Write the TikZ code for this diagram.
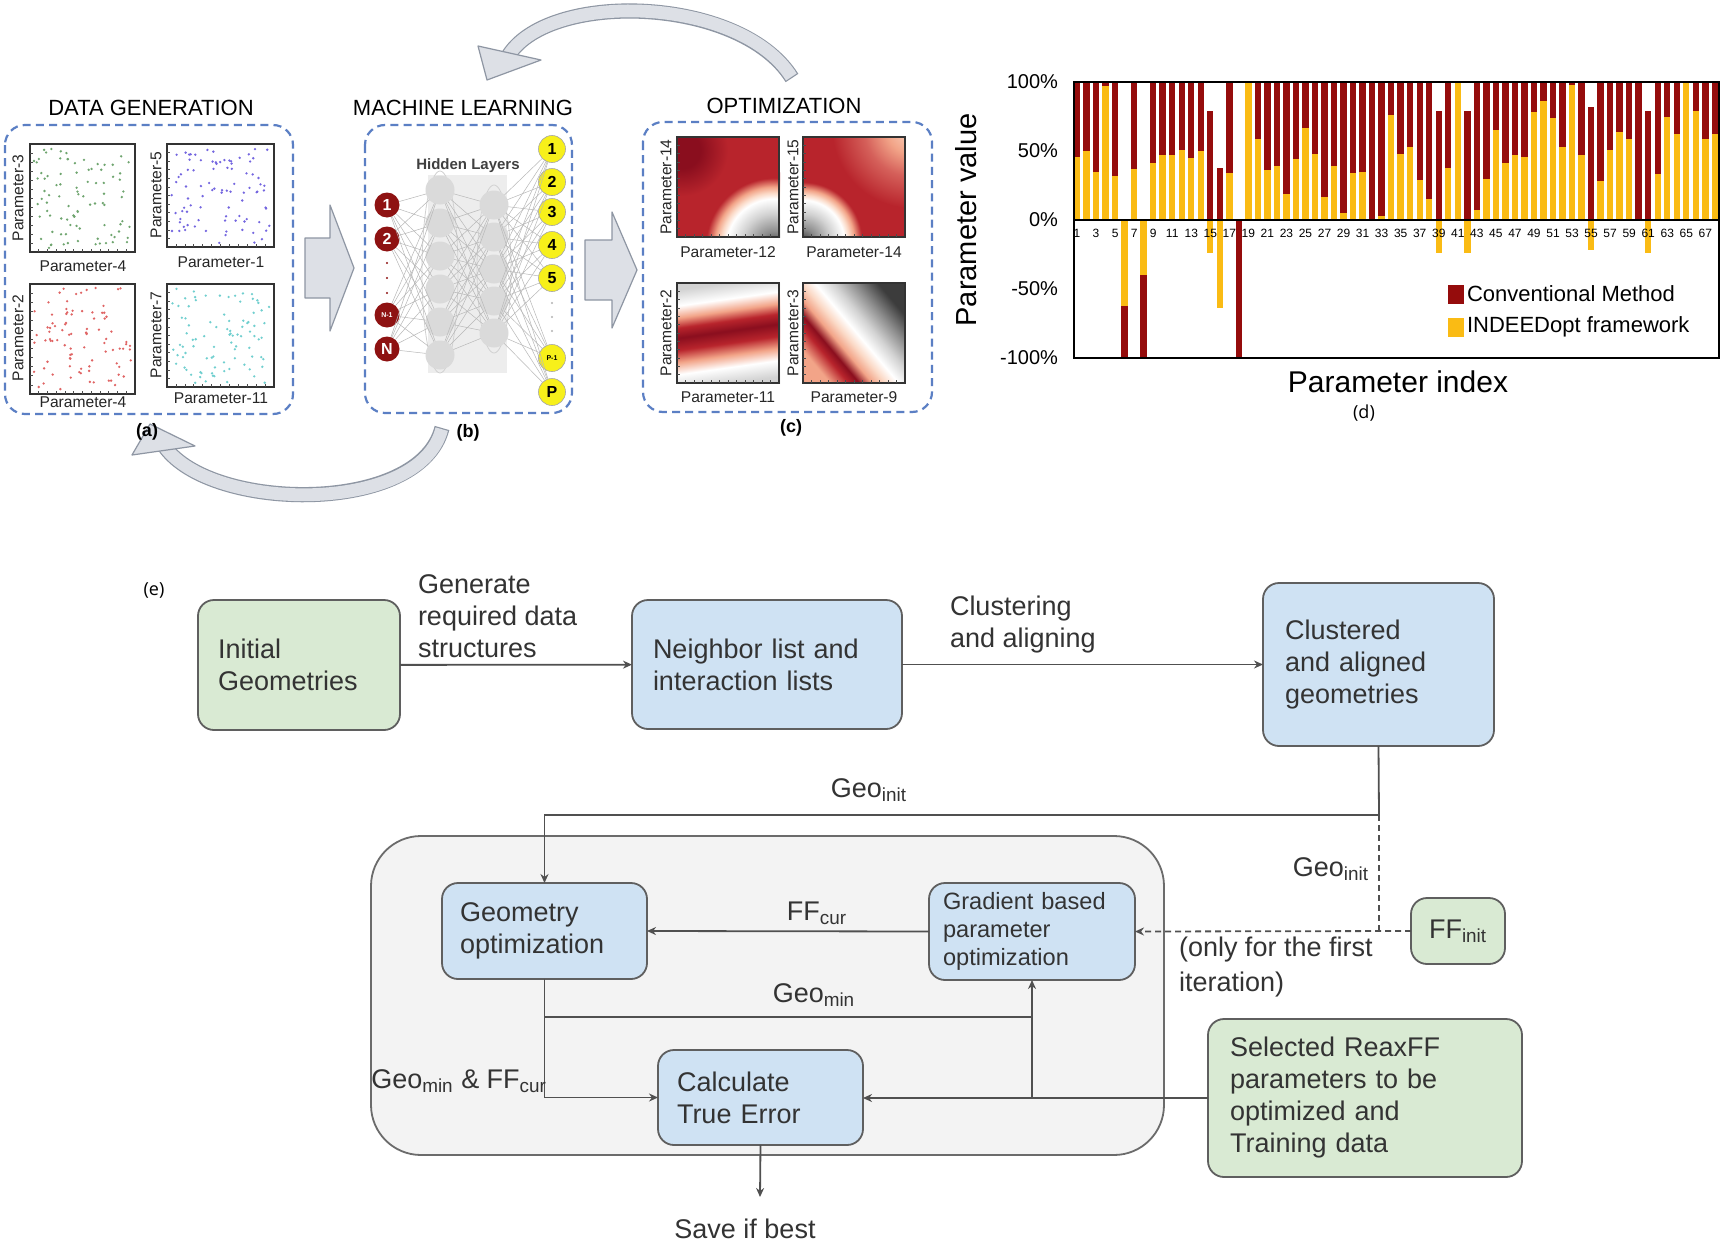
\documentclass[tikz,border=0pt]{standalone}
\usepackage{fontspec}
\setmainfont{Liberation Sans}
\newfontfamily\osans{Open Sans}
\usetikzlibrary{arrows.meta}
\definecolor{dashblue}{HTML}{5B7FC4}
\definecolor{arrfill}{HTML}{DDE0E6}
\definecolor{arredge}{HTML}{8E96A3}
\definecolor{pgreen}{HTML}{6FA56F}
\definecolor{pblue}{HTML}{7466E0}
\definecolor{pred}{HTML}{E06464}
\definecolor{pcyan}{HTML}{70CFCF}
\definecolor{hmk}{HTML}{3C3C3C}
\definecolor{hmg}{HTML}{8E8E8E}
\definecolor{hml}{HTML}{D2D2D2}
\definecolor{hms}{HTML}{F2A488}
\definecolor{hmp}{HTML}{FBD9C6}
\definecolor{hmr}{HTML}{B8242C}
\definecolor{hmd}{HTML}{8A0E1E}
\definecolor{hmm}{HTML}{D5605A}
\definecolor{inred}{HTML}{8E1212}
\definecolor{outyel}{HTML}{F7F01A}
\definecolor{hidfill}{HTML}{DADADA}
\definecolor{hidrect}{HTML}{EDEDED}
\definecolor{nnl}{HTML}{B8B8B8}
\definecolor{cred}{HTML}{950C0C}
\definecolor{cyel}{HTML}{FABB14}
\definecolor{gfill}{HTML}{D9EAD3}
\definecolor{bfill}{HTML}{CFE2F3}
\definecolor{boxedge}{HTML}{5F5F5F}
\definecolor{contfill}{HTML}{F3F3F3}
\definecolor{contedge}{HTML}{6B6B6B}
\definecolor{flowline}{HTML}{505050}
\definecolor{txt}{HTML}{333333}
\pgfdeclareradialshading{hmA}{\pgfpoint{0bp}{0bp}}{color(0bp)=(hmk); color(5bp)=(hmg); color(11bp)=(hml); color(16bp)=(white); color(18bp)=(hmp); color(20bp)=(hms); color(23bp)=(hmr); color(25bp)=(hmr); color(50bp)=(hmr)}
\pgfdeclareradialshading{hmB}{\pgfpoint{0bp}{0bp}}{color(0bp)=(hmp); color(8bp)=(hms); color(15bp)=(hmm); color(25bp)=(hmr); color(50bp)=(hmr)}
\pgfdeclareradialshading{hmE}{\pgfpoint{0bp}{0bp}}{color(0bp)=(hmd); color(10bp)=(hmd); color(25bp)=(hmr); color(50bp)=(hmr)}
\pgfdeclareverticalshading{hmC}{100bp}{color(0bp)=(hml); color(25bp)=(hml); color(33bp)=(white); color(39bp)=(hms); color(45bp)=(hmr); color(51bp)=(hmd); color(56bp)=(hmr); color(61bp)=(hms); color(67bp)=(white); color(75bp)=(hml); color(100bp)=(hml)}
\pgfdeclarehorizontalshading{hmD}{100bp}{color(0bp)=(hms); color(25bp)=(hms); color(32bp)=(hmr); color(36bp)=(hmd); color(41bp)=(hms); color(46bp)=(hmp); color(51bp)=(white); color(58bp)=(hml); color(66bp)=(hmg); color(75bp)=(hmk); color(100bp)=(hmk)}
\begin{document}
\begin{tikzpicture}[x=0.5pt,y=-0.5pt,
  every node/.style={inner sep=0pt,outer sep=0pt},
  dashbox/.style={draw=dashblue,line width=1.1pt,dash pattern=on 4pt off 2.6pt,rounded corners=10pt},
  plotframe/.style={draw=black!80,line width=0.6pt},
  tk/.style={draw=black!70,line width=0.3pt},
  ttl/.style={font=\fontsize{11}{13}\selectfont},
  plab/.style={font=\fontsize{7.8}{9}\selectfont,text=black!85},
  panlab/.style={font=\bfseries\fontsize{9}{11}\selectfont},
  blockarrow/.style={fill=arrfill,draw=arredge,line width=0.6pt,line join=round},
  nnline/.style={draw=nnl,line width=0.25pt},
  hid/.style={circle,fill=hidfill,minimum size=14.5pt},
  inp/.style={circle,fill=inred,minimum size=12.5pt,text=white,font=\bfseries\fontsize{8}{8}\selectfont},
  outp/.style={circle,fill=outyel,draw=black!35,line width=0.3pt,minimum size=13.5pt,font=\bfseries\fontsize{8}{8}\selectfont},
  flow/.style={draw=flowline,line width=0.9pt},
  arr/.style={flow,-{Stealth[length=4.5pt,width=4pt]}},
  fbox/.style={draw=boxedge,line width=0.9pt,rounded corners=8pt,align=left,font=\fontsize{13.5}{16}\selectfont,text=txt},
  gbox/.style={fbox,fill=gfill},
  bbox/.style={fbox,fill=bfill},
  lbl/.style={font=\fontsize{13.5}{16}\selectfont,text=txt,align=left},
  ytl/.style={font=\fontsize{10}{12}\selectfont,anchor=east},
  xtl/.style={font=\fontsize{6}{7}\selectfont},
  legt/.style={font=\fontsize{11}{13}\selectfont,anchor=west}]
\useasboundingbox (0,0) rectangle (1725,1242);
\fill[white] (0,0) rectangle (1725,1242);

% ================= curved arrows =================
\draw[arredge,line width=7.6pt] (792,78) .. controls (740,-5) and (545,-10) .. (507,58);
\draw[arrfill,line width=6.4pt,shorten <=0.6pt] (792,78) .. controls (740,-5) and (545,-10) .. (507,58);
\draw[blockarrow] (478,46) -- (541,60) -- (487,80) -- cycle;

\draw[arredge,line width=7.6pt] (442,428) .. controls (420,515) and (212,512) .. (165,447);
\draw[arrfill,line width=6.4pt,shorten <=0.6pt] (442,428) .. controls (420,515) and (212,512) .. (165,447);
\draw[blockarrow] (132,455) -- (195,446) -- (150,424) -- cycle;

% ================= (a) data generation =================
\node[ttl] (tA) at (151,108) {DATA GENERATION};
\draw[dashbox] (5,125) rectangle (293,414);
\pgfmathsetseed{7}
\foreach \x/\y/\w/\h/\c in {30/144/105/108/pgreen, 167/144/107/103/pblue, 30/284/105/110/pred, 167/284/107/103/pcyan}{
  \foreach \k in {1,...,90}{\fill[\c] ({\x+4+rnd*(\w-8)},{\y+4+rnd*(\h-8)}) circle (1.3);}
  \draw[plotframe] (\x,\y) rectangle ++(\w,\h);
  \foreach \t in {1,...,11}{
    \draw[tk] ({\x+\t*\w/12},{\y+\h}) -- ++(0,-3);
    \draw[tk] (\x,{\y+\t*\h/12}) -- ++(3,0);}
}
\node[plab] (a1x) at (83,266) {Parameter-4};
\node[plab] (a2x) at (221,262) {Parameter-1};
\node[plab] (a3x) at (83,402) {Parameter-4};
\node[plab] (a4x) at (221,398) {Parameter-11};
\node[plab,rotate=90] (a1y) at (18,198) {Parameter-3};
\node[plab,rotate=90] (a2y) at (156,195) {Parameter-5};
\node[plab,rotate=90] (a3y) at (18,338) {Parameter-2};
\node[plab,rotate=90] (a4y) at (156,335) {Parameter-7};
\node[panlab] (la) at (147,432) {(a)};

% block arrows
\draw[blockarrow] (305,238) -- (330,238) -- (330,205) -- (354,268) -- (330,331) -- (330,298) -- (305,298) -- cycle;
\draw[blockarrow] (585,240) -- (612,240) -- (612,212) -- (637,270) -- (612,328) -- (612,300) -- (585,300) -- cycle;

% ================= (b) machine learning =================
\node[ttl] (tB) at (463,108) {MACHINE LEARNING};
\draw[dashbox] (365,125) rectangle (572,413);
\fill[hidrect] (428,175) rectangle (507,373);
\node[font=\bfseries\fontsize{7.5}{9}\selectfont,text=black!75] (hl) at (468,166) {Hidden Layers};
\draw[draw=black!18,line width=0.4pt] (440,272) ellipse (18 and 101);
\draw[draw=black!18,line width=0.4pt] (494,269) ellipse (17 and 84);
\foreach \y [count=\i] in {190,223,256,289,322,355} \node[hid] (ha\i) at (440,\y) {};
\foreach \y [count=\i] in {205,237,269,301,333} \node[hid] (hb\i) at (494,\y) {};
\node[inp] (i1) at (387,205) {1};
\node[inp] (i2) at (387,239) {2};
\node[inp,font=\bfseries\fontsize{3.5}{4}\selectfont] (i3) at (387,315) {N-1};
\node[inp] (i4) at (387,349) {N};
\foreach \y [count=\i] in {149,182,212,245,278} \node[outp] (o\i) at (552,\y) {\i};
\node[outp,font=\bfseries\fontsize{3.5}{4}\selectfont] (o6) at (552,358) {P-1};
\node[outp] (o7) at (552,392) {P};
\foreach \y in {263,278,293} \fill[inred] (387,\y) circle (1.2);
\foreach \y in {303,317,331} \fill[black!30] (552,\y) circle (1.2);
\foreach \a in {1,...,4}{\foreach \b in {1,...,6}{\draw[nnline] (i\a) -- (ha\b);}}
\foreach \a in {1,...,6}{\foreach \b in {1,...,5}{\draw[nnline] (ha\a) -- (hb\b);}}
\foreach \a in {1,...,5}{\foreach \b in {1,...,7}{\draw[nnline] (hb\a) -- (o\b);}}
\node[panlab] (lb) at (468,433) {(b)};

% ================= (c) optimization =================
\node[ttl] (tC) at (784,106) {OPTIMIZATION};
\draw[dashbox] (643,122) rectangle (932,412);
\begin{scope}
\clip (677,137) rectangle (780,237);
\fill[hmr] (677,137) rectangle (780,237);
\shade[shading=hmE] (682,150) circle (46);
\shade[shading=hmA] (774,246) circle (74);
\end{scope}
\begin{scope}
\clip (803,137) rectangle (905,237);
\fill[hmr] (803,137) rectangle (905,237);
\shade[shading=hmB] (912,128) circle (80);
\shade[shading=hmA] (803,241) circle (64);
\end{scope}
\shade[shading=hmC,shading angle=8] (677,283) rectangle (780,383);
\shade[shading=hmD,shading angle=40] (803,283) rectangle (905,383);
\foreach \x/\y in {677/137,803/137,677/283,803/283}{
  \draw[plotframe] (\x,\y) rectangle ++(102,100);
  \foreach \t in {1,...,11}{
    \draw[tk] ({\x+\t*102/12},{\y+100}) -- ++(0,-3);
    \draw[tk] (\x,{\y+\t*100/12}) -- ++(3,0);}
}
\node[plab] (c1x) at (728,252) {Parameter-12};
\node[plab] (c2x) at (854,252) {Parameter-14};
\node[plab] (c3x) at (728,397) {Parameter-11};
\node[plab] (c4x) at (854,397) {Parameter-9};
\node[plab,rotate=90] (c1y) at (666,187) {Parameter-14};
\node[plab,rotate=90] (c2y) at (793,187) {Parameter-15};
\node[plab,rotate=90] (c3y) at (666,333) {Parameter-2};
\node[plab,rotate=90] (c4y) at (793,333) {Parameter-3};
\node[panlab] (lc) at (791,428) {(c)};

% ================= (d) chart =================
\foreach \i/\r/\v in {1/100/46, 2/100/50, 3/100/35, 4/100/97, 5/100/32, 6/-100/-62, 7/100/37, 8/-100/-40, 9/100/41, 10/100/47, 11/100/47, 12/100/51, 13/100/45, 14/100/50, 15/79/-24, 16/38/-64, 17/100/34, 18/-100/0, 19/100/100, 20/100/59, 21/100/36, 22/100/39, 23/100/19, 24/100/44, 25/100/67, 26/100/48, 27/100/17, 28/100/39, 29/100/5, 30/100/34, 31/100/35, 32/100/0, 33/100/3, 34/100/76, 35/100/48, 36/100/53, 37/100/29, 38/100/15, 39/79/-24, 40/100/38, 41/100/100, 42/79/-24, 43/100/7, 44/100/30, 45/100/65, 46/100/41, 47/100/47, 48/100/46, 49/100/78, 50/100/86, 51/100/74, 52/100/53, 53/100/98, 54/100/47, 55/82/-22, 56/100/28, 57/100/51, 58/100/64, 59/100/59, 60/100/0, 61/79/-24, 62/100/33, 63/100/75, 64/100/62, 65/100/100, 66/100/79, 67/100/59, 68/100/62}{
  \fill[cred] ({1077+(\i-1)*9.52-3.2},220) rectangle ({1077+(\i-1)*9.52+3.2},{220-1.38*\r});
  \fill[cyel] ({1077+(\i-1)*9.52-3.2},220) rectangle ({1077+(\i-1)*9.52+3.2},{220-1.38*\v});
}
\draw[black,line width=0.9pt] (1074,82) rectangle (1719,358);
\draw[black,line width=1pt] (1074,220) -- (1719,220);
\foreach \i in {1,3,...,67} \node[xtl] (xl\i) at ({1077+(\i-1)*9.52},233) {\i};
\node[ytl] (y1) at (1058,82) {100\%};
\node[ytl] (y2) at (1058,151) {50\%};
\node[ytl] (y3) at (1058,220) {0\%};
\node[ytl] (y4) at (1058,289) {-50\%};
\node[ytl] (y5) at (1058,358) {-100\%};
\node[font=\fontsize{14.5}{16}\selectfont,rotate=90] (pv) at (966,220) {Parameter value};
\node[font=\fontsize{15}{17}\selectfont] (pix) at (1398,382) {Parameter index};
\node[font=\osans\fontsize{9}{11}\selectfont] (ld) at (1364,413) {(d)};
\fill[cred] (1448,285) rectangle (1464,304);
\fill[cyel] (1448,318) rectangle (1464,337);
\node[legt] (lg1) at (1467,294) {Conventional Method};
\node[legt] (lg2) at (1467,327) {INDEEDopt framework};

% ================= (e) flowchart =================
\node[font=\osans\fontsize{9}{11}\selectfont] (le) at (154,590) {(e)};
\draw[fill=contfill,draw=contedge,line width=0.9pt,rounded corners=25pt] (371,836) rectangle (1164,1155);

\node[gbox,minimum width=101pt,minimum height=65pt,inner xsep=10pt,text width=81pt] (init) at (299,665) {Initial\\Geometries};
\node[bbox,minimum width=135pt,minimum height=64.5pt,inner xsep=10.5pt,text width=114pt] (nbr) at (767,664.5) {Neighbor list and\\interaction lists};
\node[bbox,minimum width=115.5pt,minimum height=81.5pt,inner xsep=11pt,text width=93.5pt] (clus) at (1378.5,664.5) {Clustered\\and aligned\\geometries};
\node[bbox,minimum width=102.5pt,minimum height=48pt,inner xsep=9pt,text width=84.5pt] (geo) at (544.5,931) {Geometry\\optimization};
\node[bbox,minimum width=103pt,minimum height=48.5pt,inner xsep=7pt,text width=89pt,font=\fontsize{11.8}{14}\selectfont] (grad) at (1032,931.5) {Gradient based\\parameter\\optimization};
\node[bbox,minimum width=102.5pt,minimum height=47.5pt,inner xsep=9.5pt,text width=83.5pt] (calc) at (760.5,1097.5) {Calculate\\True Error};
\node[gbox,minimum width=157pt,minimum height=79pt,inner xsep=11pt,text width=135pt] (sel) at (1365,1098) {Selected ReaxFF\\parameters to be\\optimized and\\Training data};
\node[gbox,minimum width=47pt,minimum height=33pt,inner xsep=9pt,text width=29pt] (ffinit) at (1458,931) {FF\textsubscript{init}};

\coordinate (j1) at (1379,815);
\coordinate (j2) at (1379,931);
\coordinate (gm) at (545,1017);
\coordinate (se) at (760,1197);

\draw[arr] (init) -- (nbr);
\draw[arr] (nbr.east) -- (nbr.east -| clus.west);
\draw[flow] (clus.south) -- (j1);
\draw[arr] (j1) -| (geo.north);
\draw[flow,densely dashed] (j1) -- (j2);
\draw[arr,densely dashed] (ffinit.west) -- (grad.east);
\draw[arr] (grad.west) -- (geo.east);
\draw[arr] (geo.south) |- (calc.west);
\draw[flow] (gm) -- (gm -| grad.south);
\draw[arr] (sel.west) -- (sel.west -| calc.east);
\draw[arr] (sel.west -| grad.south) -- (grad.south);
\draw[arr] (calc.south) -- (se);

\node[lbl] (l1) at (418,616) [anchor=west] {Generate\\required data\\structures};
\node[lbl] (l2) at (950,625) [anchor=west] {Clustering\\and aligning};
\node[lbl] (l3) at (869,790) {Geo\textsubscript{init}};
\node[lbl] (l4) at (1331,869) {Geo\textsubscript{init}};
\node[lbl] (l5) at (817,913) {FF\textsubscript{cur}};
\node[lbl] (l6) at (814,995) {Geo\textsubscript{min}};
\node[lbl,anchor=east] (l7) at (547,1081) {Geo\textsubscript{min} \& FF\textsubscript{cur}};
\node[lbl,anchor=west,font=\fontsize{13.5}{17.5}\selectfont] (l8) at (1179,967) {(only for the first\\iteration)};
\node[lbl] (save) at (745,1229) {Save if best};
\end{tikzpicture}
\end{document}
